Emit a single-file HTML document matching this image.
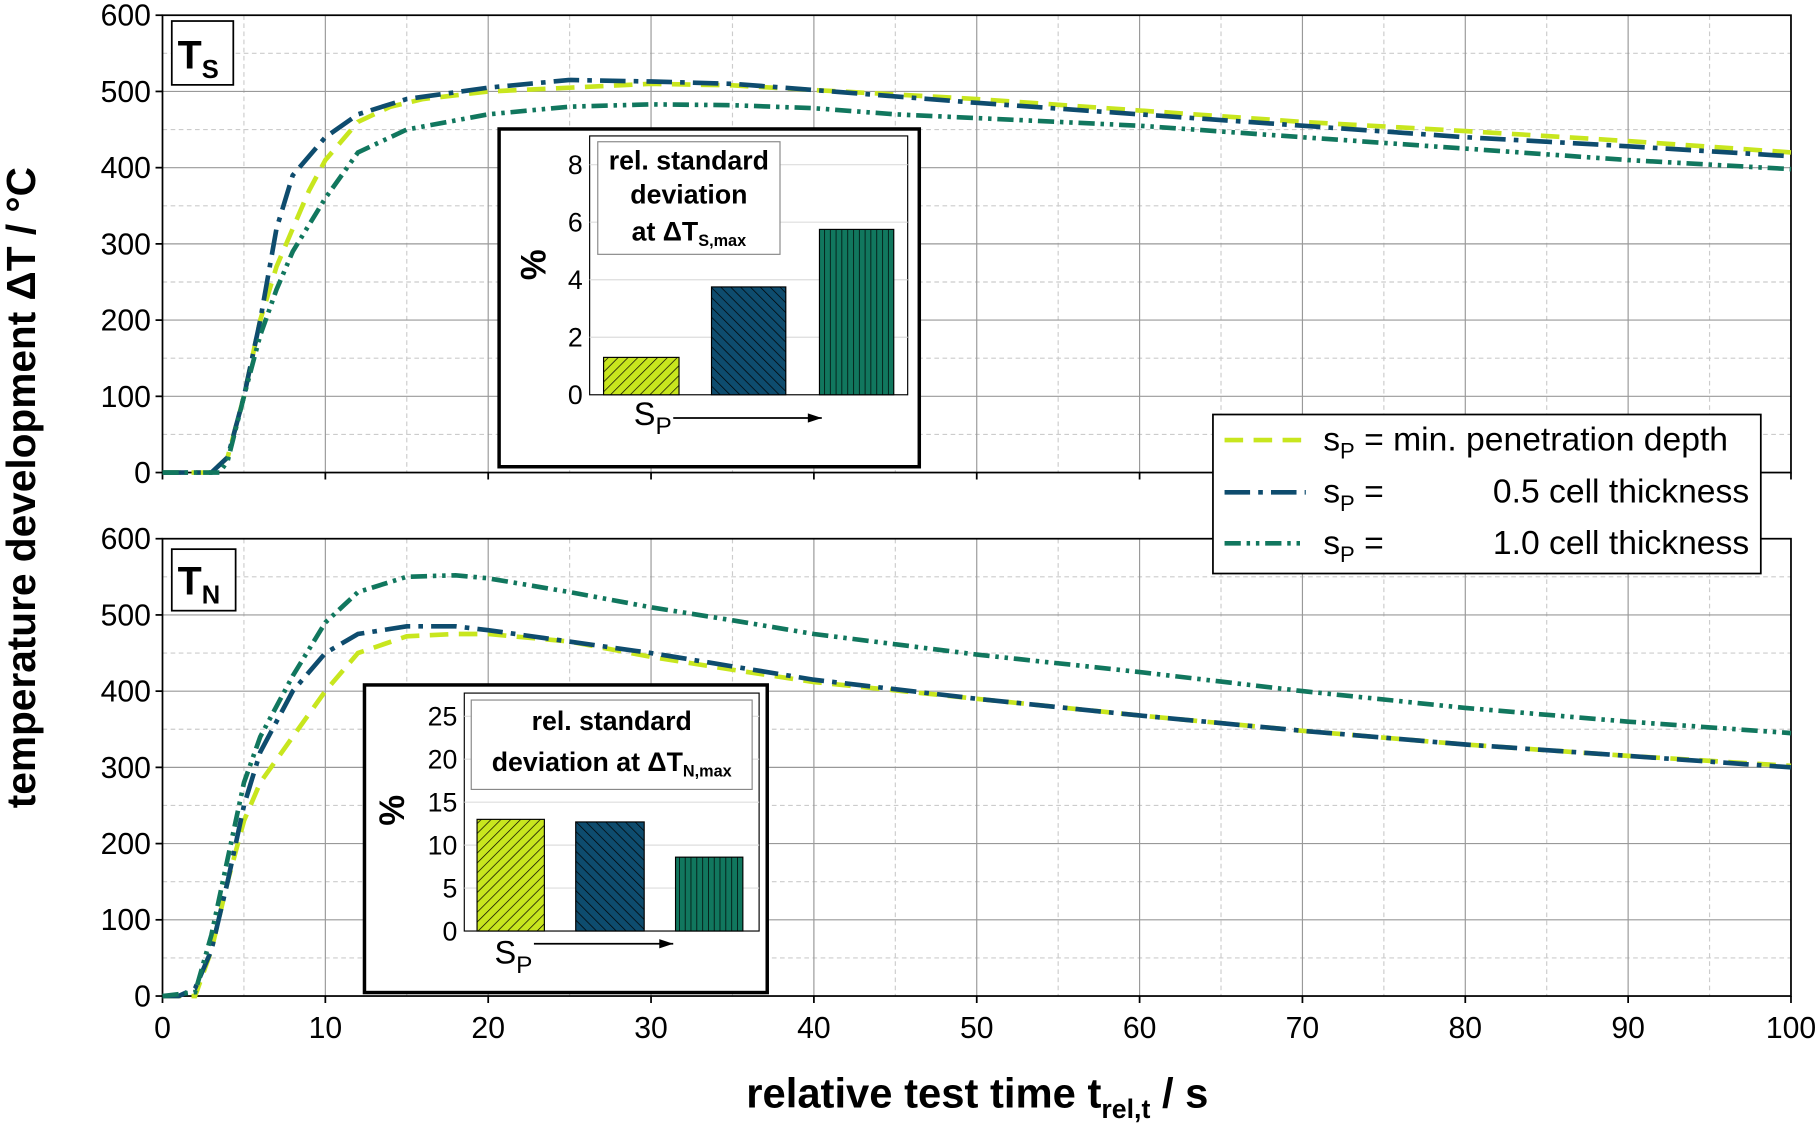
<!DOCTYPE html>
<html><head><meta charset="utf-8"><style>
html,body{margin:0;padding:0;background:#fff;}
svg{display:block;font-family:"Liberation Sans",Arial,sans-serif;}
</style></head><body>
<svg id="s" width="1820" height="1125" viewBox="0 0 1568 969" xmlns="http://www.w3.org/2000/svg">
<defs>
<pattern id="py" width="6" height="6" patternUnits="userSpaceOnUse" patternTransform="rotate(45)"><rect width="6" height="6" fill="#c8e61e"/><line x1="0" y1="0" x2="0" y2="6" stroke="#000" stroke-width="1.2"/></pattern>
<pattern id="pb" width="6" height="6" patternUnits="userSpaceOnUse" patternTransform="rotate(-45)"><rect width="6" height="6" fill="#0e4c6e"/><line x1="0" y1="0" x2="0" y2="6" stroke="#000" stroke-width="1.2"/></pattern>
<pattern id="pg" width="5" height="6" patternUnits="userSpaceOnUse"><rect width="5" height="6" fill="#11775e"/><line x1="0" y1="0" x2="0" y2="6" stroke="#000" stroke-width="1.2"/></pattern>
</defs>
<g id="g"></g>
</svg>
<script>
const NS="http://www.w3.org/2000/svg",G=document.getElementById('g');
function el(t,a,txt){const e=document.createElementNS(NS,t);for(const k in a)e.setAttribute(k,a[k]);if(txt!==undefined)e.innerHTML=txt;G.appendChild(e);return e;}
const X0=140,X1=1543;const xs=v=>X0+(X1-X0)*v/100;
function panel(top,bot){
 const ys=v=>bot-(bot-top)*v/600;
 for(let i=5;i<100;i+=10)el('line',{x1:xs(i),x2:xs(i),y1:top,y2:bot,stroke:'#ccc','stroke-dasharray':'4 3'});
 for(let v=50;v<600;v+=100)el('line',{x1:X0,x2:X1,y1:ys(v),y2:ys(v),stroke:'#ccc','stroke-dasharray':'4 3'});
 for(let i=10;i<100;i+=10)el('line',{x1:xs(i),x2:xs(i),y1:top,y2:bot,stroke:'#999'});
 for(let v=100;v<600;v+=100)el('line',{x1:X0,x2:X1,y1:ys(v),y2:ys(v),stroke:'#999'});
 el('rect',{x:X0,y:top,width:X1-X0,height:bot-top,fill:'none',stroke:'#000','stroke-width':1.5});
 for(let v=0;v<=600;v+=100){el('line',{x1:X0-6,x2:X0,y1:ys(v),y2:ys(v),stroke:'#000','stroke-width':1.5});el('text',{x:X0-10,y:ys(v)+9,'text-anchor':'end','font-size':26},v);}
 for(let i=0;i<=100;i+=10)el('line',{x1:xs(i),x2:xs(i),y1:bot,y2:bot+6,stroke:'#000','stroke-width':1.5});
 return ys;
}
function curve(ys,pts,col,dash){let d='';pts.forEach((p,i)=>{d+=(i?'L':'M')+xs(p[0]).toFixed(1)+','+ys(p[1]).toFixed(1);});el('path',{d:d,fill:'none',stroke:col,'stroke-width':4,'stroke-dasharray':dash});}
const Y='#c8e61e',B='#0e4c6e',Gc='#11775e',dY='16 9',dB='22 7 4 7',dG='14 5 3 5 3 5';
let ys=panel(13,407);
curve(ys,[[0,0],[3,0],[4,20],[5,100],[6,200],[7,270],[8,320],[9,370],[10,410],[12,460],[14,480],[16,490],[20,500],[25,505],[30,510],[35,508],[40,502],[50,490],[60,475],[70,460],[80,448],[90,435],[100,420]],Y,dY);
curve(ys,[[0,0],[3,0],[4,20],[5,100],[6,200],[7,320],[8,390],[10,440],[12,470],[15,490],[20,505],[25,515],[30,513],[35,510],[40,502],[50,485],[60,470],[70,455],[80,440],[90,428],[100,415]],B,dB);
curve(ys,[[0,0],[3.5,0],[4,15],[5,100],[6,180],[7,240],[8,290],[10,360],[12,420],[15,450],[20,470],[25,480],[30,483],[35,482],[40,478],[45,470],[50,465],[60,455],[70,440],[80,425],[90,410],[100,398]],Gc,dG);
let yb=panel(464,858);
curve(yb,[[0,0],[2,0],[3,60],[4,150],[5,230],[6,280],[8,340],[10,400],[12,450],[15,472],[18,475],[20,475],[25,465],[30,445],[35,428],[40,412],[50,390],[60,368],[70,348],[80,330],[90,315],[100,302]],Y,dY);
curve(yb,[[0,0],[1,0],[2,10],[3,60],[4,150],[5,250],[6,320],[8,400],[10,450],[12,475],[15,485],[18,485],[20,480],[30,450],[40,415],[50,390],[60,368],[70,348],[80,330],[90,315],[100,300]],B,dB);
curve(yb,[[0,0],[2,5],[3,80],[4,180],[5,280],[6,340],[8,420],[10,490],[12,530],[15,550],[18,552],[20,548],[25,530],[30,510],[35,493],[40,475],[50,448],[60,425],[70,400],[80,378],[90,360],[100,345]],Gc,dG);
for(let i=0;i<=100;i+=10)el('text',{x:xs(i),y:894,'text-anchor':'middle','font-size':26},i);
el('rect',{x:148,y:18,width:53,height:55,fill:'#fff',stroke:'#000','stroke-width':1.5});
el('text',{x:153,y:59,'font-size':34,'font-weight':'bold'},'T<tspan font-size="22" dy="8">S</tspan>');
el('rect',{x:148,y:473,width:55,height:53,fill:'#fff',stroke:'#000','stroke-width':1.5});
el('text',{x:153,y:512,'font-size':34,'font-weight':'bold'},'T<tspan font-size="22" dy="8">N</tspan>');
el('text',{x:842,y:954,'text-anchor':'middle','font-size':36,'font-weight':'bold'},'relative test time t<tspan font-size="23" dy="9">rel,t</tspan><tspan dy="-9"> / s</tspan>');
el('text',{x:0,y:0,transform:'translate(30,420) rotate(-90)','text-anchor':'middle','font-size':35,'font-weight':'bold'},'temperature development ΔT / °C');
el('rect',{x:1045,y:357,width:472,height:137,fill:'#fff',stroke:'#000','stroke-width':1.5});
[[379,Y,dY,'s<tspan font-size="19" dy="7">P</tspan><tspan dy="-7"> = min. penetration depth</tspan>'],[424,B,dB,'s<tspan font-size="19" dy="7">P</tspan><tspan dy="-7"> =</tspan>'],[468,Gc,dG,'s<tspan font-size="19" dy="7">P</tspan><tspan dy="-7"> =</tspan>']].forEach(r=>{
 el('line',{x1:1055,x2:1125,y1:r[0],y2:r[0],stroke:r[1],'stroke-width':4,'stroke-dasharray':r[2]});
 el('text',{x:1140,y:r[0]+9,'font-size':29},r[3]);});
el('text',{x:1507,y:433,'text-anchor':'end','font-size':29},'0.5 cell thickness');
el('text',{x:1507,y:477,'text-anchor':'end','font-size':29},'1.0 cell thickness');
function inset(bx,by,bw,bh,px0,py0,px1,py1,max,step,bars,labelBox,labelLines,pctX,pctY,spX,spY,arr){
 el('rect',{x:bx,y:by,width:bw,height:bh,fill:'#fff',stroke:'#000','stroke-width':3});
 const sy=v=>py1-(py1-py0)*v/max;
 el('rect',{x:px0,y:py0,width:px1-px0,height:py1-py0,fill:'#fff',stroke:'#000','stroke-width':1});
 for(let v=0;v<max;v+=step){if(v>0)el('line',{x1:px0,x2:px1,y1:sy(v),y2:sy(v),stroke:'#ddd'});el('text',{x:px0-6,y:sy(v)+8,'text-anchor':'end','font-size':23},v);}
 bars.forEach(b=>el('rect',{x:b[0],y:sy(b[2]),width:b[1]-b[0],height:py1-sy(b[2]),fill:b[3],stroke:'#000','stroke-width':1}));
 el('rect',{x:labelBox[0],y:labelBox[1],width:labelBox[2],height:labelBox[3],fill:'#fff',stroke:'#888'});
 labelLines.forEach(l=>el('text',{x:labelBox[0]+labelBox[2]/2,y:l[0],'text-anchor':'middle','font-size':23,'font-weight':'bold'},l[1]));
 el('text',{x:0,y:0,transform:`translate(${pctX},${pctY}) rotate(-90)`,'text-anchor':'middle','font-size':30,'font-weight':'bold'},'%');
 el('text',{x:spX,y:spY,'font-size':28},'S<tspan font-size="21" dy="8">P</tspan>');
 el('line',{x1:arr[0],x2:arr[1],y1:arr[2],y2:arr[2],stroke:'#000','stroke-width':1.5});
 el('path',{d:`M${arr[1]},${arr[2]} l-12,-4 v8z`,fill:'#000'});
}
inset(430,111,362,291,508,117,782,340,9,2,[[520,585,1.3,'url(#py)'],[613,677,3.75,'url(#pb)'],[706,770,5.75,'url(#pg)']],[515,122,157,97],[[146,'rel. standard'],[175,'deviation'],[207,'at ΔT<tspan font-size="14" dy="5">S,max</tspan>']],470,228,546,366,[580,708,360]);
inset(314,590,347,265,400,597,654,802,27.7,5,[[411,469,13,'url(#py)'],[496,555,12.7,'url(#pb)'],[582,640,8.6,'url(#pg)']],[406,603,242,77],[[629,'rel. standard'],[664,'deviation at ΔT<tspan font-size="14" dy="5">N,max</tspan>']],348,698,426,830,[460,580,813]);
</script>
</body></html>
